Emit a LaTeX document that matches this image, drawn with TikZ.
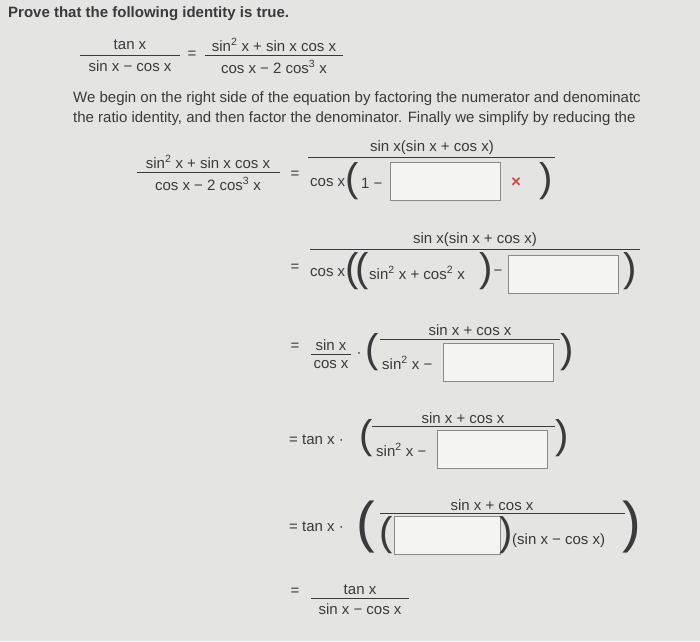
\documentclass[tikz,border=0pt]{standalone}
\usepackage{fontspec}
\setmainfont{Liberation Sans}
\definecolor{bg}{HTML}{E4E4E2}
\definecolor{ink}{HTML}{3A3A3C}
\definecolor{boxc}{HTML}{8A8A8A}
\definecolor{redx}{HTML}{D04848}
\newcommand{\sq}{\textsuperscript{2}}
\newcommand{\cu}{\textsuperscript{3}}
\begin{document}
\begin{tikzpicture}[x=1pt,y=-1pt,
  txt/.style={text=ink,font=\fontsize{15}{17}\selectfont,inner sep=1pt},
  frline/.style={draw=ink,line width=0.7pt},
  ansbox/.style={draw=boxc,fill=white!60!bg,line width=0.8pt},
  paren/.style={text=ink,font=\fontsize{40}{40}\selectfont\fontspec{Liberation Sans},inner sep=0pt}]
\fill[bg] (0,0) rectangle (700,641);
\useasboundingbox (0,0) rectangle (700,641);
% title
\node[txt,anchor=west,font=\bfseries\fontsize{15}{17}\selectfont] (title) at (7,14) {Prove that the following identity is true.};
% first equation
\node[txt] (n0) at (130,45) {tan x};
\draw[frline] (80,55) -- (180,55);
\node[txt] (d0) at (130,66) {sin x − cos x};
\node[txt] (e0) at (192,55) {=};
\node[txt] (n0r) at (274,45) {sin\sq{} x + sin x cos x};
\draw[frline] (205,55) -- (343,55);
\node[txt] (d0r) at (274,67) {cos x − 2 cos\cu{} x};
% paragraph
\node[txt,anchor=west] (p1) at (72,99) {We begin on the right side of the equation by factoring the numerator and denominatc};
\node[txt,anchor=west] (p2) at (72,119) {the ratio identity, and then factor the denominator. Finally we simplify by reducing the};
% step 1
\node[txt] (n1) at (208,162) {sin\sq{} x + sin x cos x};
\draw[frline] (137,172) -- (280,172);
\node[txt] (d1) at (208,184) {cos x − 2 cos\cu{} x};
\node[txt] (e1) at (295,175) {=};
\node[txt] (n1r) at (432,148) {sin x(sin x + cos x)};
\draw[frline] (308,157) -- (555,157);
\node[txt,anchor=west] (d1r) at (309,183) {cos x};
\node[paren] (p1l) at (352,181) {(};
\node[txt,anchor=west] (d1b) at (360,183) {1 −};
\node[ansbox,minimum width=110pt,minimum height=38pt,anchor=north west] (b1) at (390,162) {};
\node[text=redx,font=\bfseries\fontsize{17}{17}\selectfont] (x1) at (516,183) {×};
\node[paren] (p1r) at (546,181) {)};
% step 2
\node[txt] (n2) at (475,240) {sin x(sin x + cos x)};
\draw[frline] (310,249) -- (640,249);
\node[txt] (e2) at (295,268) {=};
\node[txt,anchor=west] (d2) at (309,273) {cos x};
\node[paren] (p2a) at (352,271) {(};
\node[paren] (p2b) at (362,271) {(};
\node[txt,anchor=west] (d2b) at (368,273) {sin\sq{} x + cos\sq{} x};
\node[paren] (p2c) at (486,271) {)};
\node[txt] (m2) at (498,273) {−};
\node[ansbox,minimum width=110pt,minimum height=38pt,anchor=north west] (b2) at (508,255) {};
\node[paren] (p2d) at (630,271) {)};
% step 3
\node[txt] (e3) at (295,347) {=};
\node[txt] (n3a) at (331,345) {sin x};
\draw[frline] (311,354) -- (351,354);
\node[txt] (d3a) at (331,365) {cos x};
\node[txt] (dot3) at (359,355) {·};
\node[paren] (p3l) at (372,352) {(};
\node[txt] (n3) at (470,330) {sin x + cos x};
\draw[frline] (380,339) -- (560,339);
\node[txt,anchor=west] (d3) at (381,363) {sin\sq{} x −};
\node[ansbox,minimum width=110pt,minimum height=38pt,anchor=north west] (b3) at (443,343) {};
\node[paren] (p3r) at (567,352) {)};
% step 4
\node[txt,anchor=west] (e4) at (288,440) {= tan x ·};
\node[paren] (p4l) at (366,438) {(};
\node[txt] (n4) at (463,418) {sin x + cos x};
\draw[frline] (372,426) -- (555,426);
\node[txt,anchor=west] (d4) at (375,450) {sin\sq{} x −};
\node[ansbox,minimum width=110pt,minimum height=38pt,anchor=north west] (b4) at (437,430) {};
\node[paren] (p4r) at (562,438) {)};
% step 5
\node[txt,anchor=west] (e5) at (288,527) {= tan x ·};
\node[paren,font=\fontsize{56}{56}\selectfont] (p5l) at (366,527) {(};
\node[paren] (p5m) at (386,535) {(};
\node[txt] (n5) at (492,505) {sin x + cos x};
\draw[frline] (380,513) -- (625,513);
\node[ansbox,minimum width=106pt,minimum height=38pt,anchor=north west] (b5) at (394,516) {};
\node[paren] (p5n) at (506,535) {)};
\node[txt,anchor=west] (d5) at (511,541) {(sin x − cos x)};
\node[paren,font=\fontsize{56}{56}\selectfont] (p5r) at (632,527) {)};
% step 6
\node[txt] (e6) at (295,592) {=};
\node[txt] (n6) at (360,590) {tan x};
\draw[frline] (311,598) -- (409,598);
\node[txt] (d6) at (360,609) {sin x − cos x};
\end{tikzpicture}
\end{document}
